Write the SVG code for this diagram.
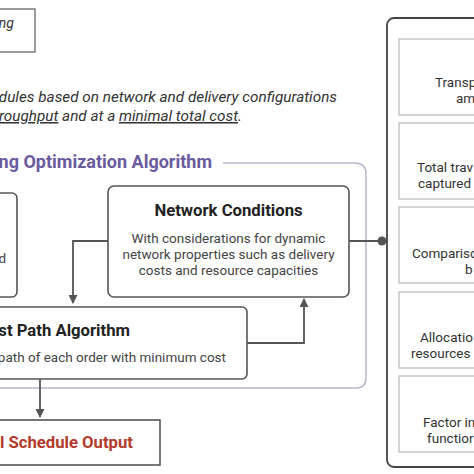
<svg xmlns="http://www.w3.org/2000/svg" width="474" height="474" viewBox="0 0 474 474">
<style>
text{font-family:Roboto,"Liberation Sans",sans-serif;}
.box{fill:#fff;stroke:#555;stroke-width:1.6;}
.inner{fill:#fff;stroke:#bdbdbd;stroke-width:1.3;}
.ttl{font-weight:bold;font-size:16.7px;fill:#222;}
.sub{font-size:13.5px;fill:#444;}
.rt{font-size:13.5px;fill:#333;}
.it{font-style:italic;font-size:15.3px;fill:#333;}
.con{fill:none;stroke:#555;stroke-width:1.8;}
</style>
<defs>
<marker id="ah" viewBox="0 0 10 10" refX="9" refY="5" markerWidth="5" markerHeight="5" orient="auto" markerUnits="strokeWidth">
<path d="M0,0 L10,5 L0,10 z" fill="#555"/>
</marker>
</defs>
<rect width="474" height="474" fill="#fff"/>

<g id="legend-box">
<rect x="-10" y="9" width="45" height="43" fill="none" stroke="#666" stroke-width="1.3"/>
<text x="14" y="28" text-anchor="end" class="it" style="font-size:14px">ng</text>
</g>

<g id="caption">
<text x="337" y="102" text-anchor="end" class="it">dules based on network and delivery configurations</text>
<text x="242" y="121" text-anchor="end" class="it"><tspan text-decoration="underline">roughput</tspan> and at a <tspan text-decoration="underline">minimal total cost</tspan>.</text>
</g>

<g id="container">
<path d="M223,163 H355 Q366,163 366,174 V378 Q366,388 356,388 H-10" fill="none" stroke="#b9b5cc" stroke-width="1.5"/>
<text x="212" y="168" text-anchor="end" style="font-weight:bold;font-size:18px;fill:#6a5a9e">ng Optimization Algorithm</text>
</g>

<g id="connectors">
<path class="con" d="M108,241 H73 V303" marker-end="url(#ah)"/>
<path class="con" d="M247,343 H304 V299" marker-end="url(#ah)"/>
<path class="con" d="M40,379 V417" marker-end="url(#ah)"/>
<path class="con" d="M349,241 H387"/>
<circle cx="382" cy="241" r="4.5" fill="#555"/>
</g>

<g id="left-node">
<rect x="-10" y="193" width="27" height="104" rx="5" class="box"/>
<text x="6" y="263" text-anchor="end" class="sub">d</text>
</g>

<g id="network-conditions">
<rect x="108" y="186" width="241" height="111" rx="6" class="box"/>
<text x="228.5" y="216" text-anchor="middle" class="ttl">Network Conditions</text>
<text x="228.5" y="243" text-anchor="middle" class="sub">With considerations for dynamic</text>
<text x="228.5" y="259" text-anchor="middle" class="sub">network properties such as delivery</text>
<text x="228.5" y="275" text-anchor="middle" class="sub">costs and resource capacities</text>
</g>

<g id="shortest-path">
<rect x="-10" y="307" width="257" height="72" rx="5" class="box"/>
<text x="130" y="336" text-anchor="end" class="ttl">st Path Algorithm</text>
<text x="226" y="362" text-anchor="end" class="sub">path of each order with minimum cost</text>
</g>

<g id="final-output">
<rect x="-10" y="420" width="170" height="45" class="box"/>
<text x="133" y="448" text-anchor="end" style="font-weight:bold;font-size:16.7px;fill:#b23a2c">l Schedule Output</text>
</g>

<g id="right-panel">
<rect x="387" y="18" width="100" height="449" rx="7" fill="#fff" stroke="#444" stroke-width="1.8"/>
<rect x="399" y="39" width="90" height="76" class="inner"/>
<rect x="399" y="123" width="90" height="76" class="inner"/>
<rect x="399" y="207" width="90" height="76" class="inner"/>
<rect x="399" y="292" width="90" height="76" class="inner"/>
<rect x="399" y="376" width="90" height="76" class="inner"/>
<text x="435" y="87" class="rt">Transp</text>
<text x="456" y="103" class="rt">am</text>
<text x="417" y="172" class="rt">Total trav</text>
<text x="418" y="188" class="rt">captured</text>
<text x="412" y="258" class="rt">Compariso</text>
<text x="465" y="274" class="rt">b</text>
<text x="420" y="342" class="rt">Allocatio</text>
<text x="411" y="358" class="rt">resources</text>
<text x="423" y="427" class="rt">Factor in</text>
<text x="427" y="443" class="rt">functior</text>
</g>
</svg>
